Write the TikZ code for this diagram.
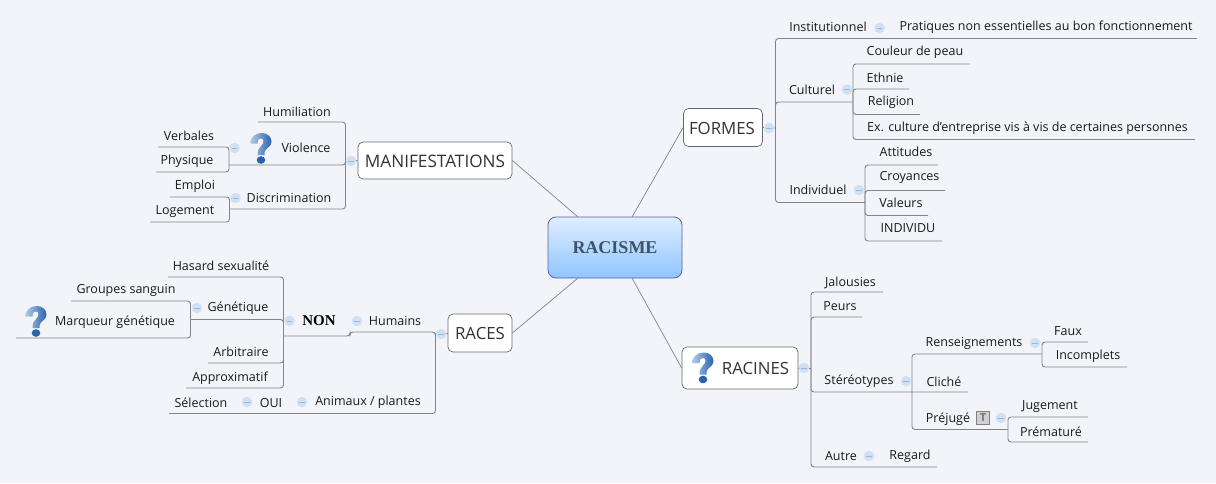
\documentclass[tikz,border=0pt]{standalone}
\usepackage{fontspec}
\setmainfont{Open Sans}
\newfontfamily\serifb{Liberation Serif}[BoldFont={Liberation Serif Bold}]
\definecolor{bg}{HTML}{F2F4F9}
\definecolor{ln}{HTML}{80858A}
\definecolor{tx}{HTML}{1A1A1A}
\definecolor{tgf}{HTML}{CFE0F4}
\definecolor{tgm}{HTML}{9DB7D9}
\definecolor{rtop}{HTML}{DFEEFE}
\definecolor{rbot}{HTML}{8FC5FF}
\definecolor{rtxt}{HTML}{3D5468}
\definecolor{qlight}{HTML}{B4CDE8}
\definecolor{qdark}{HTML}{2A62AE}
\tikzset{
  branch/.style={draw=ln,line width=0.9pt,rounded corners=3pt},
  link/.style={draw=ln,line width=0.7pt},
  leaf/.style={text=tx,font=\fontsize{12.5}{14}\selectfont,inner sep=0pt,text height=10.5pt,text depth=1.5pt},
  main/.style={draw=ln!80!black,fill=white,rounded corners=5pt,line width=0.7pt},
  mainlabel/.style={text=black!80,font=\fontsize{16.8}{19}\selectfont,inner sep=0pt},
  toggle/.style={circle,fill=tgf,minimum size=10.5pt,inner sep=0pt,
    path picture={\draw[tgm,line width=0.7pt] ([xshift=-2.8pt]path picture bounding box.center) -- ([xshift=2.8pt]path picture bounding box.center);}},
  qmark/.pic={
    \path[left color=qlight,right color=qdark]
      (-10.5,-5) .. controls (-11,-12) and (-5,-15.5) .. (1,-15.5)
      .. controls (7,-15.5) and (10.5,-11) .. (10.5,-7)
      .. controls (10.5,-3) and (7,-1) .. (5,1)
      .. controls (3.5,2.5) and (3.5,4) .. (3.5,6.5) -- (-3.5,6.5)
      .. controls (-3.5,2) and (-2.5,0) .. (0,-2.5)
      .. controls (1.5,-4) and (2.5,-5.5) .. (2.5,-7.5)
      .. controls (2.5,-9.5) and (1,-10) .. (-0.5,-10)
      .. controls (-3,-10) and (-3.5,-8) .. (-3.5,-5) -- cycle;
    \fill[qdark] (0,11.5) ellipse (4.3 and 3.8);
  }
}
\begin{document}
\begin{tikzpicture}[x=1pt,y=-1pt]
\fill[bg] (0,0) rectangle (1216,483);
\useasboundingbox (0,0) rectangle (1216,483);

% root and main topics
\node[draw=ln!70!blue,line width=0.8pt,rounded corners=8pt,top color=rtop,bottom color=rbot,minimum width=134pt,minimum height=61pt,inner sep=0pt,text=rtxt,font=\serifb\bfseries\fontsize{18}{20}\selectfont] (root) at (615,247.5) {RACISME};
\coordinate (rootNW) at (578,217);
\coordinate (rootNE) at (632,217);
\coordinate (rootSW) at (578,278);
\coordinate (rootSE) at (632,278);

\node[main,minimum width=154pt,minimum height=37pt] (man) at (435,160.5) {};
\node[mainlabel,font=\fontsize{17.2}{19}\selectfont] (manT) at (435,161) {MANIFESTATIONS};
\node[main,minimum width=79pt,minimum height=38pt] (for) at (723,127.5) {};
\node[mainlabel] (forT) at (722,128) {FORMES};
\node[main,minimum width=64pt,minimum height=38pt] (rac) at (480,333) {};
\node[mainlabel] (racT) at (480,333) {RACES};
\node[main,minimum width=116pt,minimum height=42pt] (rcn) at (740,368) {};
\node[mainlabel] (rcnT) at (755.5,368) {RACINES};

\draw[link] (man.east) -- (rootNW);
\draw[link] (for.west) -- (rootNE);
\draw[link] (rac.east) -- (rootSW);
\draw[link] (rcn.west) -- (rootSE);

% MANIFESTATIONS
\coordinate (manJ) at (345.5,161);
\coordinate (humE) at (258,122);
\coordinate (vioE) at (229,165);
\coordinate (disE) at (229.5,209);
\coordinate (verE) at (158,147);
\coordinate (phyE) at (156,172);
\coordinate (empE) at (170,197);
\coordinate (logE) at (150,222);
\coordinate (vioJ) at (229,160);
\coordinate (disJ) at (229.5,209);
\draw[branch] (man.west) -- (manJ);
\draw[branch] (manJ) |- (humE);
\draw[branch] (manJ) |- (vioE);
\draw[branch] (manJ) |- (disE);
\draw[branch] (vioJ) |- (verE);
\draw[branch] (vioJ) |- (phyE);
\draw[branch] (disJ) |- (empE);
\draw[branch] (disJ) |- (logE);
\node[leaf] (hum) at (297,112) {Humiliation};
\node[leaf] (vio) at (306,148) {Violence};
\node[leaf] (dis) at (289,198) {Discrimination};
\node[leaf] (ver) at (189,136) {Verbales};
\node[leaf] (phy) at (187,160) {Physique};
\node[leaf] (emp) at (195,185) {Emploi};
\node[leaf] (log) at (185,210) {Logement};
\pic at (261,148.5) {qmark};
\node[toggle] (tMan) at (351,161) {};
\node[toggle] (tVio) at (234.5,148) {};
\node[toggle] (tDis) at (235.5,198) {};

% RACES
\coordinate (racJ) at (435.5,333);
\coordinate (humsE) at (350,332);
\coordinate (humsJ) at (350,336);
\coordinate (nonJ) at (283.5,336);
\coordinate (hasE) at (168,277);
\coordinate (genE) at (190.5,319.5);
\coordinate (arbE) at (208,363);
\coordinate (appE) at (186,388);
\coordinate (genJ) at (190.5,319.5);
\coordinate (groE) at (71,301);
\coordinate (marE) at (16,338);
\coordinate (aniE) at (169,413.5);
\draw[branch] (rac.west) -- (racJ);
\draw[branch] (racJ) |- (humsE) -- (humsJ) -- (nonJ);
\draw[branch] (racJ) |- (aniE);
\draw[branch] (nonJ) |- (hasE);
\draw[branch] (nonJ) |- (genE);
\draw[branch] (nonJ) |- (arbE);
\draw[branch] (nonJ) |- (appE);
\draw[branch] (genJ) |- (groE);
\draw[branch] (genJ) |- (marE);
\node[leaf] (hums) at (395,321) {Humains};
\node[leaf,text=black,font=\serifb\bfseries\fontsize{15}{16}\selectfont] (non) at (319,321) {NON};
\node[leaf] (has) at (221,266) {Hasard sexualité};
\node[leaf] (gen) at (238,307) {Génétique};
\node[leaf] (gro) at (126,289) {Groupes sanguin};
\node[leaf] (mar) at (115,320.5) {Marqueur génétique};
\node[leaf] (arb) at (241,352) {Arbitraire};
\node[leaf] (app) at (230,377) {Approximatif};
\node[leaf] (ani) at (368,401) {Animaux / plantes};
\node[leaf] (oui) at (271,402.5) {OUI};
\node[leaf] (sel) at (201,402.5) {Sélection};
\pic at (36,321.5) {qmark};
\node[toggle] (tRac) at (441,334) {};
\node[toggle] (tHum) at (357,321) {};
\node[toggle] (tNon) at (289.5,321) {};
\node[toggle] (tGen) at (197,308) {};
\node[toggle] (tAni) at (302,402) {};
\node[toggle] (tOui) at (247,402) {};

% FORMES
\coordinate (forJ) at (775.5,128);
\coordinate (insE) at (1197,38.5);
\coordinate (culE) at (853,102);
\coordinate (indE) at (865,202.5);
\coordinate (culJ) at (853,102);
\coordinate (couE) at (970,64);
\coordinate (ethE) at (909,89);
\coordinate (relE) at (920,114.5);
\coordinate (exE) at (1195,139.5);
\coordinate (indJ) at (865,202.5);
\coordinate (attE) at (938,165);
\coordinate (croE) at (945,190.5);
\coordinate (valE) at (928,215.5);
\coordinate (idvE) at (942,241);
\draw[branch] (for.east) -- (forJ);
\draw[branch] (forJ) |- (insE);
\draw[branch] (forJ) |- (culE);
\draw[branch] (forJ) |- (indE);
\draw[branch] (culJ) |- (couE);
\draw[branch] (culJ) |- (ethE);
\draw[branch] (culJ) |- (relE);
\draw[branch] (culJ) |- (exE);
\draw[branch] (indJ) |- (attE);
\draw[branch] (indJ) |- (croE);
\draw[branch] (indJ) |- (valE);
\draw[branch] (indJ) |- (idvE);
\node[leaf] (ins) at (828,27) {Institutionnel};
\node[leaf] (pra) at (1046,26) {Pratiques non essentielles au bon fonctionnement};
\node[leaf] (cul) at (812,89.5) {Culturel};
\node[leaf] (cou) at (915,51) {Couleur de peau};
\node[leaf] (eth) at (885,77.5) {Ethnie};
\node[leaf] (rel) at (891,101) {Religion};
\node[leaf] (ex) at (1027.5,126.5) {Ex. culture d'entreprise vis à vis de certaines personnes};
\node[leaf] (ind) at (818,189.5) {Individuel};
\node[leaf] (att) at (906,152) {Attitudes};
\node[leaf] (cro) at (909.5,176) {Croyances};
\node[leaf] (val) at (901,202.5) {Valeurs};
\node[leaf] (idv) at (908,227.5) {INDIVIDU};
\node[toggle] (tFor) at (769,128) {};
\node[toggle] (tIns) at (879.5,28) {};
\node[toggle] (tCul) at (847,89.5) {};
\node[toggle] (tInd) at (859,190) {};

% RACINES
\coordinate (rcnJ) at (811,368);
\coordinate (jalE) at (883,292);
\coordinate (peuE) at (862,317);
\coordinate (steE) at (968,392);
\coordinate (autE) at (937,467);
\coordinate (steJ) at (912,392);
\coordinate (renE) at (1042,354);
\coordinate (preE) at (1008,429.5);
\coordinate (renJ) at (1042,354);
\coordinate (fauE) at (1088,342);
\coordinate (incE) at (1127,367);
\coordinate (preJ) at (1008,429.5);
\coordinate (jugE) at (1088,417);
\coordinate (pmaE) at (1088,442);
\draw[branch] (rcn.east) -- (rcnJ);
\draw[branch] (rcnJ) |- (jalE);
\draw[branch] (rcnJ) |- (peuE);
\draw[branch] (rcnJ) |- (steE);
\draw[branch] (rcnJ) |- (autE);
\draw[branch] (steJ) |- (renE);
\draw[branch] (steJ) |- (preE);
\draw[branch] (renJ) |- (fauE);
\draw[branch] (renJ) |- (incE);
\draw[branch] (preJ) |- (jugE);
\draw[branch] (preJ) |- (pmaE);
\node[leaf] (jal) at (850.5,282) {Jalousies};
\node[leaf] (peu) at (840,306) {Peurs};
\node[leaf] (ste) at (859,380) {Stéréotypes};
\node[leaf] (ren) at (974,342) {Renseignements};
\node[leaf] (fau) at (1068,331) {Faux};
\node[leaf] (inc) at (1088,355) {Incomplets};
\node[leaf] (cli) at (944,382) {Cliché};
\node[leaf] (pre) at (948,418) {Préjugé};
\node[draw=black!50,fill=black!18,minimum size=13pt,inner sep=0pt,text=black!55,font=\bfseries\fontsize{11}{11}\selectfont] (tic) at (983,418) {T};
\node[leaf] (jug) at (1050,405) {Jugement};
\node[leaf] (pma) at (1051,432) {Prématuré};
\node[leaf] (aut) at (841,456) {Autre};
\node[leaf] (reg) at (910,455) {Regard};
\pic at (703,368) {qmark};
\node[toggle] (tRcn) at (804,368) {};
\node[toggle] (tSte) at (906,381) {};
\node[toggle] (tRen) at (1035,343) {};
\node[toggle] (tPre) at (1001,418) {};
\node[toggle] (tAut) at (869,456) {};
\end{tikzpicture}
\end{document}
